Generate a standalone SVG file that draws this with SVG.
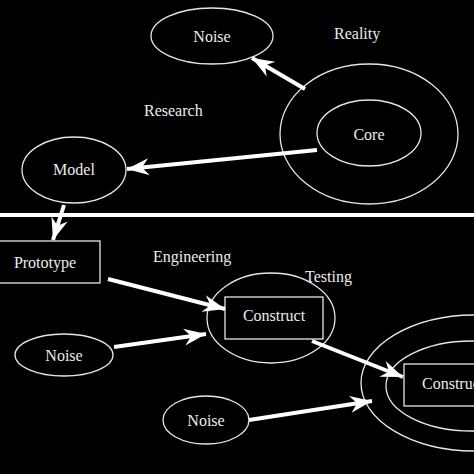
<svg xmlns="http://www.w3.org/2000/svg" width="474" height="474" viewBox="0 0 474 474">
<style>
.sh{fill:none;stroke:#e6e6e6;stroke-width:1.3}
.t{font-family:'Liberation Serif','DejaVu Serif',serif;font-size:16px;fill:#ececec}
.c{text-anchor:middle}
.a{stroke:#ffffff;stroke-width:4;fill:none;marker-end:url(#ah)}
</style>
<defs>
<marker id="ah" markerUnits="userSpaceOnUse" viewBox="-24 -10 26 20" refX="0" refY="0" markerWidth="26" markerHeight="20" orient="auto">
<path d="M0,0 L-22,-8.5 L-15,0 L-22,8.5 Z" fill="#ffffff"/>
</marker>
</defs>
<rect width="474" height="474" fill="#000"/>
<g id="divider"><rect x="0" y="213" width="474" height="4" fill="#ffffff"/></g>
<g id="label-reality"><text class="t" x="334" y="39">Reality</text></g>
<g id="label-research"><text class="t" x="144" y="116">Research</text></g>
<g id="label-engineering"><text class="t" x="153" y="262">Engineering</text></g>
<g id="label-testing"><text class="t" x="305" y="282">Testing</text></g>
<g id="noise-top"><ellipse class="sh" cx="212" cy="36" rx="61" ry="28"/><text class="t c" x="212" y="42">Noise</text></g>
<g id="reality"><ellipse class="sh" cx="369" cy="134" rx="89" ry="70"/></g>
<g id="core"><ellipse class="sh" cx="369" cy="133" rx="52" ry="33"/><text class="t c" x="369" y="140">Core</text></g>
<g id="model"><ellipse class="sh" cx="74" cy="170" rx="52" ry="33"/><text class="t c" x="74" y="175">Model</text></g>
<g id="prototype"><rect class="sh" x="-2" y="241" width="102" height="42"/><text class="t c" x="45" y="268">Prototype</text></g>
<g id="testing-ring"><ellipse class="sh" cx="271" cy="318" rx="64" ry="45"/></g>
<g id="construct"><rect class="sh" x="225" y="297" width="98" height="42"/><text class="t c" x="274" y="321">Construct</text></g>
<g id="noise-left"><ellipse class="sh" cx="64" cy="355" rx="49" ry="21"/><text class="t c" x="64" y="361">Noise</text></g>
<g id="noise-bottom"><ellipse class="sh" cx="206" cy="420" rx="43" ry="24"/><text class="t c" x="206" y="426">Noise</text></g>
<g id="outer-ring"><ellipse class="sh" cx="475" cy="383" rx="114" ry="68"/></g>
<g id="inner-ring"><ellipse class="sh" cx="472" cy="386" rx="86" ry="45"/></g>
<g id="construct2"><rect class="sh" x="404" y="364" width="98" height="42"/><text class="t" x="422" y="389">Construct</text></g>
<g id="connectors">
<line class="a" x1="305" y1="89" x2="252" y2="58"/>
<line class="a" x1="317" y1="150" x2="127" y2="169"/>
<line class="a" x1="64" y1="205" x2="53" y2="240"/>
<line class="a" x1="108" y1="279" x2="225" y2="309"/>
<line class="a" x1="114" y1="347" x2="206" y2="334"/>
<line class="a" x1="312" y1="341" x2="403" y2="377"/>
<line class="a" x1="249" y1="420" x2="372" y2="401"/>
</g>
</svg>
